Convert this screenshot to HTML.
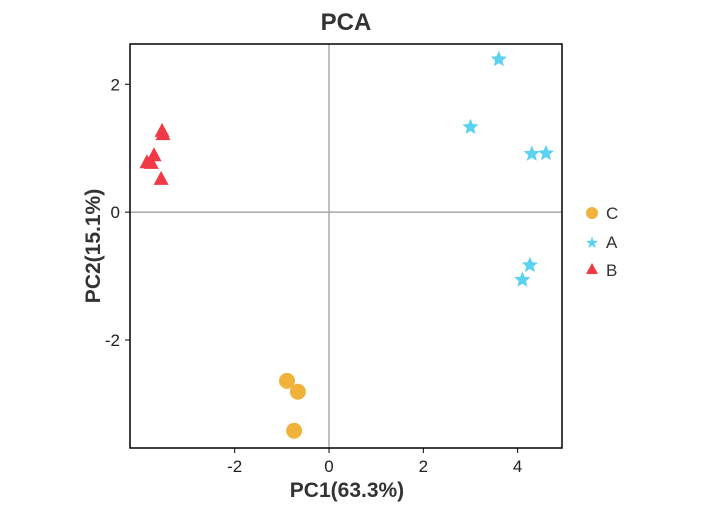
<!DOCTYPE html>
<html><head><meta charset="utf-8"><style>
body{margin:0;background:#fff;font-family:"Liberation Sans",Arial,sans-serif}
</style></head><body>
<svg id="chart" width="717" height="505" xmlns="http://www.w3.org/2000/svg" font-family="Liberation Sans, Arial, sans-serif">
<text x="346" y="30" text-anchor="middle" font-size="24" font-weight="bold" fill="#333">PCA</text>
<g id="plot"></g>
<text x="347" y="497" text-anchor="middle" font-size="21" font-weight="bold" fill="#333">PC1(63.3%)</text>
<text transform="translate(100,246) rotate(-90)" text-anchor="middle" font-size="21" font-weight="bold" fill="#333">PC2(15.1%)</text>
<g>
<circle cx="592" cy="213" r="6" fill="#F0B23A"/>
<text x="606" y="219" font-size="17" fill="#333">C</text>
<text x="592" y="248" text-anchor="middle" font-size="16" fill="#5BD3F0">★</text>
<text x="606" y="248" font-size="17" fill="#333">A</text>
<polygon points="592,263 598,274 586,274" fill="#F03A47"/>
<text x="606" y="276" font-size="17" fill="#333">B</text>
</g>
</svg>
<script>
const xTicks=[-2,0,2,4];
const yTicks=[2,0,-2];
const groupA_x=[3.6,3.0,4.3,4.6,4.26,4.1];
const groupA_y=[2.39,1.33,0.91,0.92,-0.83,-1.06];
const groupB_x=[-3.54,-3.52,-3.71,-3.86,-3.77,-3.56];
const groupB_y=[1.27,1.22,0.89,0.78,0.77,0.52];
const groupC_x=[-0.89,-0.66,-0.74];
const groupC_y=[-2.64,-2.81,-3.42];
const L=130,R=562,T=44,B=448;
const X0=-4.22,X1=4.94,Y0=-3.69,Y1=2.63;
const sx=v=>L+(v-X0)/(X1-X0)*(R-L);
const sy=v=>B-(v-Y0)/(Y1-Y0)*(B-T);
const NS="http://www.w3.org/2000/svg";
const g=document.getElementById('plot');
function mk(t,a){const e=document.createElementNS(NS,t);for(const k in a)e.setAttribute(k,a[k]);g.appendChild(e);return e;}
let e;
e=mk('line',{x1:sx(0),x2:sx(0),y1:T,y2:B,stroke:'#aaa','stroke-width':1.5});


e=mk('line',{x1:L,x2:R,y1:sy(0),y2:sy(0),stroke:'#aaa','stroke-width':1.5});


e=mk('rect',{x:L,y:T,width:R-L,height:B-T,fill:'none',stroke:'#000','stroke-width':1.5});


xTicks.forEach(v=>{
 e=mk('line',{x1:sx(v),x2:sx(v),y1:B,y2:B+5,stroke:'#000'});
 
 
 e=mk('text',{x:sx(v),y:B+24,'text-anchor':'middle','font-size':17,fill:'#222'});e.textContent=v;
 
 
});
yTicks.forEach(v=>{
 e=mk('line',{x1:L-5,x2:L,y1:sy(v),y2:sy(v),stroke:'#000'});
 
 
 e=mk('text',{x:L-10,y:sy(v)+6,'text-anchor':'end','font-size':17,fill:'#222'});e.textContent=v;
 
 
});
groupC_x.forEach((v,i)=>{
 e=mk('circle',{cx:sx(v),cy:sy(groupC_y[i]),r:8,fill:'#F0B23A'});
 
 
});
function star(cx,cy,ro,ri){let p=[];for(let k=0;k<10;k++){const r=k%2?ri:ro,a=-Math.PI/2+k*Math.PI/5;p.push((cx+r*Math.cos(a)).toFixed(1)+','+(cy+r*Math.sin(a)).toFixed(1));}return p.join(' ');}
groupA_x.forEach((v,i)=>{
 e=mk('polygon',{points:star(sx(v),sy(groupA_y[i]),8.5,3.8),fill:'#5BD3F0'});
 
 
});
groupB_x.forEach((v,i)=>{
 const x=sx(v),y=sy(groupB_y[i]);
 e=mk('polygon',{points:`${x},${y-8} ${x+7.5},${y+6} ${x-7.5},${y+6}`,fill:'#F03A47'});
 
 
});
</script>
</body></html>
